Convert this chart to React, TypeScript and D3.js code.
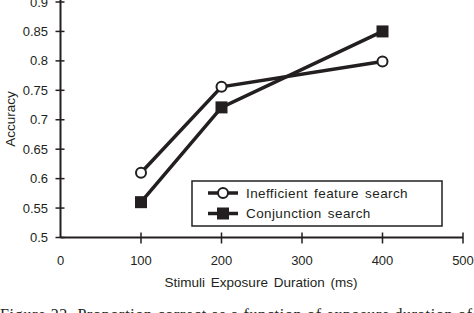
import React from "react";
import * as d3 from "d3";

const durations = [100, 200, 400];
const inefficient = [0.61, 0.756, 0.799];
const conjunction = [0.56, 0.721, 0.85];
const xTicks = [0, 100, 200, 300, 400, 500];
const yTicks = [0.5, 0.55, 0.6, 0.65, 0.7, 0.75, 0.8, 0.85, 0.9];
const seriesNames = ["Inefficient feature search", "Conjunction search"];

const W = 474;
const H = 313;
const FONT = "'Liberation Sans', Arial, sans-serif";

export default function App() {
  const x = d3.scaleLinear().domain([0, 500]).range([60.5, 463]);
  const y = d3.scaleLinear().domain([0.5, 0.9]).range([237.5, 2]);
  const line = d3
    .line<[number, number]>()
    .x((d) => x(d[0]))
    .y((d) => y(d[1]));
  const ineffPts = durations.map((d, i) => [d, inefficient[i]] as [number, number]);
  const conjPts = durations.map((d, i) => [d, conjunction[i]] as [number, number]);
  const ink = "#231f20";
  const sq = 12;

  return (
    <svg
      width={W}
      height={H}
      style={{ position: "absolute", left: 0, top: 0, background: "#fff" }}
      fontFamily={FONT}
    >
      {/* axes */}
      <line x1={x(0)} x2={x(0)} y1={y(0.5)} y2={0} stroke={ink} strokeWidth={2} />
      <line x1={x(0)} x2={x(500)} y1={y(0.5)} y2={y(0.5)} stroke={ink} strokeWidth={2} />
      {yTicks.map((t) => (
        <g key={"y" + t}>
          <line x1={x(0) - 5} x2={x(0) + 4} y1={y(t)} y2={y(t)} stroke={ink} strokeWidth={1.5} />
          <text x={48} y={y(t)} dy="0.35em" textAnchor="end" fontSize={13} fill={ink}>
            {String(t)}
          </text>
        </g>
      ))}
      {xTicks.map((t) => (
        <g key={"x" + t}>
          {t > 0 && (
            <line x1={x(t)} x2={x(t)} y1={y(0.5) - 5} y2={y(0.5) + 6} stroke={ink} strokeWidth={1.5} />
          )}
          <text x={x(t)} y={260} dy="0.35em" textAnchor="middle" fontSize={13} fill={ink}>
            {t}
          </text>
        </g>
      ))}
      <text
        x={261}
        y={282}
        dy="0.35em"
        textAnchor="middle"
        fontSize={13.5}
        wordSpacing={2}
        fill={ink}
      >
        Stimuli Exposure Duration (ms)
      </text>
      <text
        transform={`translate(10,119) rotate(-90)`}
        dy="0.35em"
        textAnchor="middle"
        fontSize={13.5}
        fill={ink}
      >
        Accuracy
      </text>

      {/* series */}
      <path d={line(ineffPts) || ""} fill="none" stroke={ink} strokeWidth={3.5} />
      <path d={line(conjPts) || ""} fill="none" stroke={ink} strokeWidth={3.5} />
      {ineffPts.map((p, i) => (
        <circle key={"c" + i} cx={x(p[0])} cy={y(p[1])} r={5} fill="#fff" stroke={ink} strokeWidth={2} />
      ))}
      {conjPts.map((p, i) => (
        <rect
          key={"s" + i}
          x={x(p[0]) - sq / 2}
          y={y(p[1]) - sq / 2}
          width={sq}
          height={sq}
          fill={ink}
        />
      ))}

      {/* legend */}
      <rect x={192} y={181} width={250} height={45} fill="#fff" stroke={ink} strokeWidth={1.5} />
      {seriesNames.map((name, i) => {
        const cy = 193 + i * 20.5;
        return (
          <g key={name}>
            <line x1={208} x2={238} y1={cy} y2={cy} stroke={ink} strokeWidth={3.5} />
            {i === 0 ? (
              <circle cx={223} cy={cy} r={5} fill="#fff" stroke={ink} strokeWidth={2} />
            ) : (
              <rect x={223 - 6} y={cy - 6} width={12} height={12} fill={ink} />
            )}
            <text x={246} y={cy} dy="0.35em" fontSize={13.5} letterSpacing={0.4} wordSpacing={2} fill={ink}>
              {name}
            </text>
          </g>
        );
      })}

      {/* caption (cut off at bottom) */}
      <text
        x={0}
        y={320}
        fontFamily="'Liberation Serif', 'Times New Roman', serif"
        fontSize={16}
        textLength={472}
        lengthAdjust="spacing"
        fill={ink}
      >
        Figure 22. Proportion correct as a function of exposure duration of
      </text>
    </svg>
  );
}
